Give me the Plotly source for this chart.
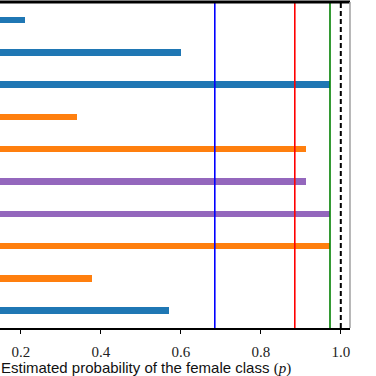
import plotly.graph_objects as go

# ---- data ----
categories = ["A", "B", "C", "D", "E", "F", "G", "H", "I", "J"]
probabilities = [0.21, 0.60, 0.973, 0.34, 0.913, 0.913, 0.973, 0.973, 0.377, 0.57]
bar_colors = ["#1f77b4", "#1f77b4", "#1f77b4", "#ff7f0e", "#ff7f0e",
              "#9467bd", "#9467bd", "#ff7f0e", "#ff7f0e", "#1f77b4"]
threshold_values = [0.685, 0.885, 0.973, 1.0]
threshold_colors = ["#0000ff", "#ff0000", "#008000", "#000000"]
threshold_dash = ["solid", "solid", "solid", "5px,3px"]
tick_values = [0.2, 0.4, 0.6, 0.8, 1.0]
tick_labels = ["0.2", "0.4", "0.6", "0.8", "1.0"]

positions = list(range(len(categories)))

fig = go.Figure()
fig.add_trace(go.Bar(
    y=positions, x=probabilities, base=0, orientation="h",
    marker=dict(color=bar_colors, line=dict(width=0)),
    width=0.2, hovertext=categories, showlegend=False,
))

for v, c, d in zip(threshold_values, threshold_colors, threshold_dash):
    fig.add_shape(type="line", xref="x", yref="paper", x0=v, x1=v, y0=0, y1=1,
                  line=dict(color=c, width=1.6 if d == "solid" else 2, dash=d))

# top black band and grey right spine
fig.add_shape(type="line", xref="paper", yref="paper", x0=0, x1=1, y0=1, y1=1,
              line=dict(color="#000000", width=3))
fig.add_shape(type="line", xref="paper", yref="paper", x0=1, x1=1, y0=0, y1=1,
              line=dict(color="#a0a0a0", width=1.5))

fig.add_annotation(
    text="Estimated probability of the female class "
         "<span style='font-family:Liberation Serif'>(<i>p</i>)</span>",
    xref="paper", yref="paper", x=293 / 350, y=-40 / 326,
    xanchor="right", yanchor="middle", showarrow=False,
    font=dict(family="Liberation Sans", size=15, color="#111111"),
)

fig.update_layout(
    width=376, height=376,
    margin=dict(l=0, r=26, t=2, b=48),
    plot_bgcolor="white", paper_bgcolor="white",
    bargap=0,
    xaxis=dict(
        range=[0.148, 1.023], tickvals=tick_values, ticktext=tick_labels,
        showgrid=False, zeroline=False, showline=True, linecolor="black",
        linewidth=1.5, ticks="outside", ticklen=4, tickwidth=1, tickcolor="black",
        tickfont=dict(family="Liberation Serif", size=15, color="#222222"),
        ticklabelstandoff=5,
    ),
    yaxis=dict(
        range=[9.536, -0.557], showgrid=False, zeroline=False,
        showticklabels=False, showline=False, ticks="",
    ),
)

fig.write_html("out.html", config={"displayModeBar": False},
               post_script="document.body.style.margin='0';document.body.style.padding='0';")
